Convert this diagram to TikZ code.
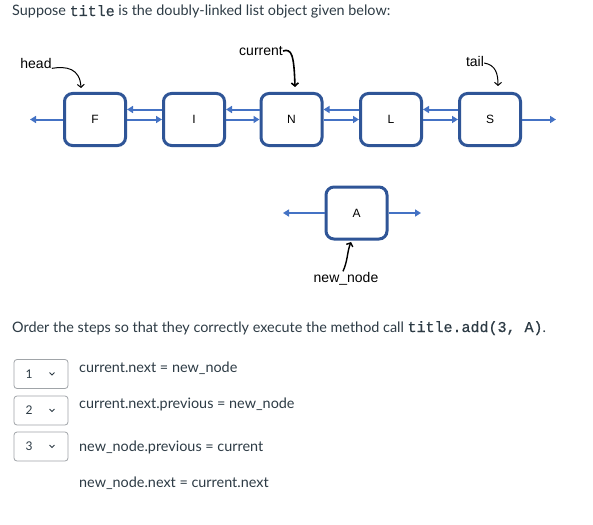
\documentclass[tikz,border=0pt]{standalone}
\usepackage{fontspec}
\setmainfont{Lato}
\newfontfamily\arialf{Liberation Sans}
\newfontfamily\codef[FakeBold=0.6]{Liberation Mono}
\usetikzlibrary{arrows.meta}
\definecolor{boxblue}{HTML}{2F5597}
\definecolor{arrblue}{HTML}{4472C4}
\definecolor{txtcol}{HTML}{2D3B45}
\definecolor{selgray}{HTML}{A0A4A8}
\newcommand{\cod}[1]{{\fontsize{15}{17}\codef #1}}
\begin{document}
\begin{tikzpicture}[x=1pt,y=-1pt,
 lnode/.style={draw=boxblue,line width=3pt,rounded corners=8pt,minimum width=61pt,minimum height=52pt,font=\arialf\fontsize{12}{14}\selectfont,fill=white,inner sep=0},
 link/.style={arrblue,line width=2pt,-{Triangle[length=6pt,width=7pt]}},
 lbl/.style={font=\arialf\fontsize{14}{16}\selectfont,inner sep=0},
 ptr/.style={line width=1pt,-{Straight Barb[length=3pt,width=7pt]}},
 para/.style={text=txtcol,font=\fontsize{14.4}{17}\selectfont,anchor=base west,inner sep=0},
 stepx/.style={text=txtcol,font=\fontsize{14.4}{17}\selectfont,anchor=west,inner sep=0},
 sel/.style={draw=selgray,rounded corners=3pt,line width=0.8pt,minimum width=54pt,minimum height=29pt,inner sep=0}]
\useasboundingbox[fill=white] (0,0) rectangle (593,524);
% top text
\node[para] (t1) at (12,16) {Suppose \cod{title} is the doubly-linked list object given below:};
% list nodes
\node[lnode] (F) at (95,119.5) {F};
\node[lnode] (I) at (194,119.5) {I};
\node[lnode] (N) at (291.5,119.5) {N};
\node[lnode] (L) at (391,119.5) {L};
\node[lnode] (S) at (490,119.5) {S};
\node[lnode] (A) at (356.5,213) {A};
% links
\coordinate (fl) at (30,119.5);
\coordinate (sr) at (556,119.5);
\coordinate (al) at (283,213);
\coordinate (ar) at (421,213);
\draw[link] (F.west) -- (fl);
\draw[link] (S.east) -- (sr);
\draw[link] (A.west) -- (al);
\draw[link] (A.east) -- (ar);
\foreach \a/\b in {F/I,I/N,N/L,L/S}{
  \draw[link] (\a.east) -- (\b.west);
  \draw[link] ([yshift=10pt]\b.west) -- ([yshift=10pt]\a.east);
}
% labels
\node[lbl] (head) at (36,63) {head};
\node[lbl] (cur) at (261,51) {current};
\node[lbl] (tail) at (475,61) {tail};
\node[lbl] (nn) at (346,279) {new\_node};
\coordinate (hend) at (81,88);
\coordinate (cend) at (295,87);
\coordinate (tend) at (498,86);
\coordinate (nend) at (351,242);
\draw[ptr] (head.south east) .. controls (66,66) and (80,68) .. (hend);
\draw[ptr,line width=1.6pt] (cur.east) .. controls (292,48) and (294,56) .. (cend);
\draw[ptr] ([yshift=-2pt]tail.east) .. controls (496,65) and (498,74) .. (tend);
\draw[ptr,line width=1.4pt] ([xshift=-3pt,yshift=1pt]nn.north) .. controls (348,260) and (347,252) .. (nend);
% question
\node[para] (t2) at (12,332) {Order the steps so that they correctly execute the method call \cod{title.add(3, A)}.};
% selects
\foreach \n/\y in {1/374,2/410.5,3/446.5}{
  \node[sel] (s\n) at (41,\y) {};
  \node[text=txtcol,font=\fontsize{12}{14}\selectfont,inner sep=0] (sn\n) at (29,\y) {\n};
  \draw[txtcol,line width=0.8pt] (49.5,\y-1.5) -- (52,\y+1) -- (54.5,\y-1.5);
}
\node[stepx] (p1) at (79,368) {current.next = new\_node};
\node[stepx] (p2) at (79,404) {current.next.previous = new\_node};
\node[stepx] (p3) at (79,447) {new\_node.previous = current};
\node[stepx] (p4) at (79,483) {new\_node.next = current.next};
\end{tikzpicture}
\end{document}
